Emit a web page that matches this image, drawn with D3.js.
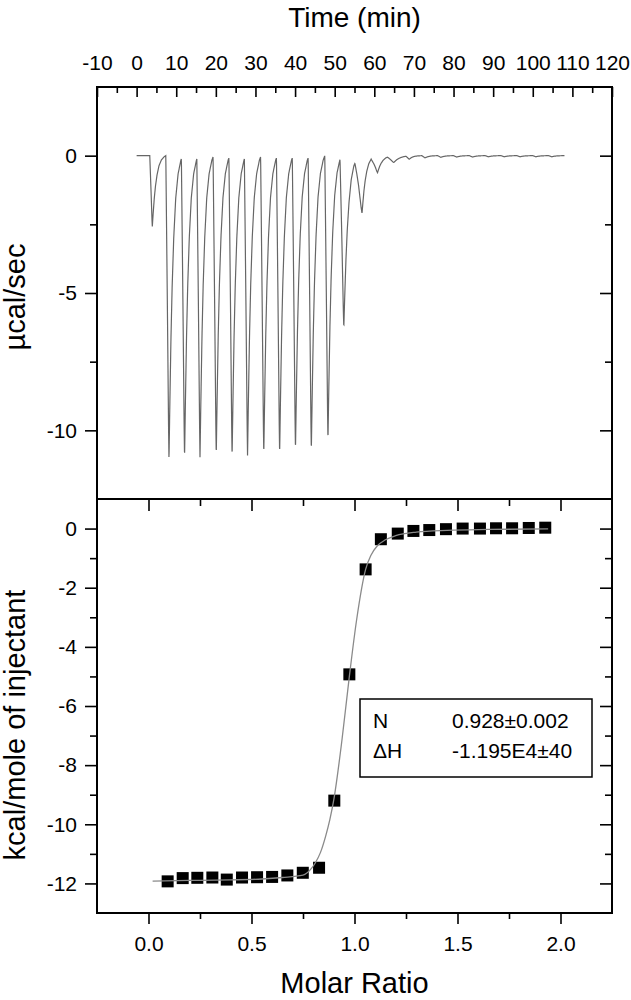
<!DOCTYPE html>
<html>
<head>
<meta charset="utf-8">
<script src="https://cdnjs.cloudflare.com/ajax/libs/d3/7.8.5/d3.min.js"></script>
<style>
  body { margin: 0; background: #fff; }
  svg text { font-family: "Liberation Sans", Arial, sans-serif; fill: #000; }
</style>
</head>
<body>
<div id="chart"></div>
<script>
// Top panel: raw ITC thermogram (minimum of each injection peak)
const peakTime = [3.96, 8.17, 12.1, 16.0, 20.1, 24.1, 28.0, 32.1, 36.1, 40.1, 44.1, 48.3, 52.3,
  56.9, 60.8, 64.9, 68.8, 72.8, 76.8, 80.8, 84.8, 88.8, 92.8, 96.8, 100.8, 104.8];
const peakDepth = [-2.58, -11.08, -11.0, -10.98, -10.9, -10.96, -10.92, -10.86, -10.86, -10.71,
  -10.74, -10.35, -6.25, -2.1, -0.62, -0.25, -0.12, -0.08, -0.06, -0.05, -0.05, -0.04, -0.04,
  -0.04, -0.04, -0.04];
// how slowly each peak falls and recovers (1 = the sharp ones)
const peakRise = [0.8, 1, 1, 1, 1, 1, 1, 1, 1, 1, 1, 1, 1.2, 2.25, 2, 2, 1, 1, 1, 1, 1, 1, 1, 1, 1, 1];
const peakDecay = [1, 1, 1, 1, 1, 1, 1, 1, 1, 1, 1, 1, 1.1, 1, 1.2, 1.5, 1, 1, 1, 1, 1, 1, 1, 1, 1, 1];
// peak outline (minutes from minimum, fraction of depth)
const riseDt = [-0.8, -0.4, -0.1, 0];
const riseFrac = [0, 0.5, 0.9, 1];
const decayDt = [0, 0.2, 0.5, 0.8, 1.2, 1.7, 2.3, 3.0, 3.4];
const decayFrac = [1, 0.83, 0.6, 0.43, 0.27, 0.14, 0.06, 0.015, 0];
const traceStart = 0;
const traceEnd = 108;

// Bottom panel: integrated heats
const molarRatio = [0.093, 0.166, 0.237, 0.310, 0.380, 0.454, 0.527, 0.600, 0.674, 0.749, 0.828,
  0.902, 0.975, 1.054, 1.128, 1.210, 1.286, 1.363, 1.444, 1.525, 1.609, 1.687, 1.765, 1.846, 1.926];
const heat = [-11.93, -11.82, -11.81, -11.80, -11.87, -11.80, -11.79, -11.78, -11.73, -11.64, -11.47,
  -9.2, -4.93, -1.38, -0.36, -0.17, -0.08, -0.05, -0.02, 0, 0, 0.01, 0.01, 0.02, 0.03];
const fitRatio = [0.02, 0.2, 0.4, 0.55, 0.65, 0.75, 0.79, 0.81, 0.835, 0.86, 0.88, 0.90, 0.94,
  0.975, 1.01, 1.054, 1.08, 1.11, 1.15, 1.2, 1.3, 1.45, 1.65, 1.94];
const fitHeat = [-11.92, -11.9, -11.88, -11.85, -11.8, -11.72, -11.5, -11.3, -10.95, -10.4, -9.85,
  -9.15, -7.1, -5.0, -3.1, -1.38, -0.9, -0.59, -0.38, -0.24, -0.12, -0.06, -0.03, -0.01];

// ticks
const timeTicks = [-10, 0, 10, 20, 30, 40, 50, 60, 70, 80, 90, 100, 110, 120];
const timeMinor = [-5, 5, 15, 25, 35, 45, 55, 65, 75, 85, 95, 105, 115];
const powerTicks = [0, -5, -10];
const powerMinor = [-2.5, -7.5];
const ratioTicks = [0, 0.5, 1.0, 1.5, 2.0];
const ratioMinor = [0.25, 0.75, 1.25, 1.75];
const heatTicks = [0, -2, -4, -6, -8, -10, -12];
const heatMinor = [-1, -3, -5, -7, -9, -11];

const legendLabels = ["N", "\u0394H"];
const legendValues = ["0.928\u00b10.002", "-1.195E4\u00b140"];

const width = 631, height = 1000;
const plot = { left: 97, right: 612, top: 87, mid: 499, bottom: 913 };

const svg = d3.select("#chart").append("svg")
  .attr("width", width)
  .attr("height", height);

const xTime = d3.scaleLinear().domain([-10, 120]).range([plot.left, plot.right]);
const yPower = d3.scaleLinear().domain([-12.5, 2.5]).range([plot.mid, plot.top]);
const xRatio = d3.scaleLinear().domain([-0.25, 2.25]).range([plot.left, plot.right]);
const yHeat = d3.scaleLinear().domain([-13, 1]).range([plot.bottom, plot.mid]);

function addAxis(axis, tx, ty) {
  const g = svg.append("g")
    .attr("transform", `translate(${tx},${ty})`)
    .call(axis)
    .attr("font-size", 21)
    .attr("font-family", null);
  g.select(".domain").remove();
  g.selectAll(".tick line").attr("stroke", "#000").attr("stroke-width", 1.6);
  return g;
}
const plain = (d) => String(d);

// top panel axes
addAxis(d3.axisTop(xTime).tickValues(timeTicks).tickSize(-10).tickPadding(17).tickFormat(plain), 0, plot.top);
addAxis(d3.axisTop(xTime).tickValues(timeMinor).tickSize(-6).tickFormat(""), 0, plot.top);
addAxis(d3.axisLeft(yPower).tickValues(powerTicks).tickSize(12).tickPadding(8).tickFormat(plain), plot.left, 0);
addAxis(d3.axisLeft(yPower).tickValues(powerMinor).tickSize(7).tickFormat(""), plot.left, 0);
addAxis(d3.axisRight(yPower).tickValues(powerTicks).tickSize(-12).tickFormat(""), plot.right, 0);
addAxis(d3.axisRight(yPower).tickValues(powerMinor).tickSize(-7).tickFormat(""), plot.right, 0);

// bottom panel axes
addAxis(d3.axisTop(xRatio).tickValues(ratioTicks).tickSize(-12).tickFormat(""), 0, plot.mid);
addAxis(d3.axisTop(xRatio).tickValues(ratioMinor).tickSize(-7).tickFormat(""), 0, plot.mid);
addAxis(d3.axisBottom(xRatio).tickValues(ratioTicks).tickSize(11).tickPadding(12).tickFormat(d3.format(".1f")), 0, plot.bottom);
addAxis(d3.axisBottom(xRatio).tickValues(ratioMinor).tickSize(6).tickFormat(""), 0, plot.bottom);
addAxis(d3.axisLeft(yHeat).tickValues(heatTicks).tickSize(12).tickPadding(8).tickFormat(plain), plot.left, 0);
addAxis(d3.axisLeft(yHeat).tickValues(heatMinor).tickSize(7).tickFormat(""), plot.left, 0);
addAxis(d3.axisRight(yHeat).tickValues(heatTicks).tickSize(-12).tickFormat(""), plot.right, 0);
addAxis(d3.axisRight(yHeat).tickValues(heatMinor).tickSize(-7).tickFormat(""), plot.right, 0);

// thermogram trace
const riseShape = d3.scaleLinear().domain(riseDt).range(riseFrac).clamp(true);
const decayShape = d3.scaleLinear().domain(decayDt).range(decayFrac).clamp(true);
const trace = [];
for (let t = traceStart; t <= traceEnd + 1e-9; t += 0.04) {
  let v = 0;
  peakTime.forEach((pt, i) => {
    const dt = t - pt;
    if (dt < 0) {
      if (dt > riseDt[0] * peakRise[i]) v += peakDepth[i] * riseShape(dt / peakRise[i]);
    } else {
      v += peakDepth[i] * decayShape(dt / peakDecay[i]);
    }
  });
  trace.push([t, v]);
}
svg.append("path")
  .datum(trace)
  .attr("fill", "none")
  .attr("stroke", "#666")
  .attr("stroke-width", 1.2)
  .attr("d", d3.line().x((d) => xTime(d[0])).y((d) => yPower(d[1])));

// integrated heats
const heatData = molarRatio.map((r, i) => ({ r, h: heat[i] }));
const sq = 12;
svg.append("g")
  .selectAll("rect")
  .data(heatData)
  .enter()
  .append("rect")
  .attr("x", (d) => xRatio(d.r) - sq / 2)
  .attr("y", (d) => yHeat(d.h) - sq / 2)
  .attr("width", sq)
  .attr("height", sq)
  .attr("fill", "#000");

const fitData = fitRatio.map((r, i) => ({ r, h: fitHeat[i] }));
svg.append("path")
  .datum(fitData)
  .attr("fill", "none")
  .attr("stroke", "#8a8a8a")
  .attr("stroke-width", 1.3)
  .attr("d", d3.line().curve(d3.curveMonotoneX).x((d) => xRatio(d.r)).y((d) => yHeat(d.h)));

// frames
[[plot.top, plot.mid], [plot.mid, plot.bottom]].forEach(([y0, y1]) => {
  svg.append("rect")
    .attr("x", plot.left)
    .attr("y", y0)
    .attr("width", plot.right - plot.left)
    .attr("height", y1 - y0)
    .attr("fill", "none")
    .attr("stroke", "#000")
    .attr("stroke-width", 2);
});

// legend box
const legend = svg.append("g").attr("transform", "translate(360,699)");
legend.append("rect")
  .attr("width", 232)
  .attr("height", 78)
  .attr("fill", "#fff")
  .attr("stroke", "#000")
  .attr("stroke-width", 1.5);
legendLabels.forEach((lab, i) => {
  legend.append("text").attr("x", 13).attr("y", 29 + i * 30).attr("font-size", 21).text(lab);
  legend.append("text").attr("x", 92).attr("y", 29 + i * 30).attr("font-size", 21).text(legendValues[i]);
});

// titles
svg.append("text")
  .attr("x", (plot.left + plot.right) / 2)
  .attr("y", 27)
  .attr("text-anchor", "middle")
  .attr("font-size", 28)
  .text("Time (min)");
svg.append("text")
  .attr("x", (plot.left + plot.right) / 2)
  .attr("y", 993)
  .attr("text-anchor", "middle")
  .attr("font-size", 29)
  .text("Molar Ratio");
svg.append("text")
  .attr("transform", "translate(25,297) rotate(-90)")
  .attr("text-anchor", "middle")
  .attr("font-size", 29)
  .text("\u00b5cal/sec");
svg.append("text")
  .attr("transform", "translate(25,725) rotate(-90)")
  .attr("text-anchor", "middle")
  .attr("font-size", 29)
  .text("kcal/mole of injectant");
</script>
</body>
</html>
